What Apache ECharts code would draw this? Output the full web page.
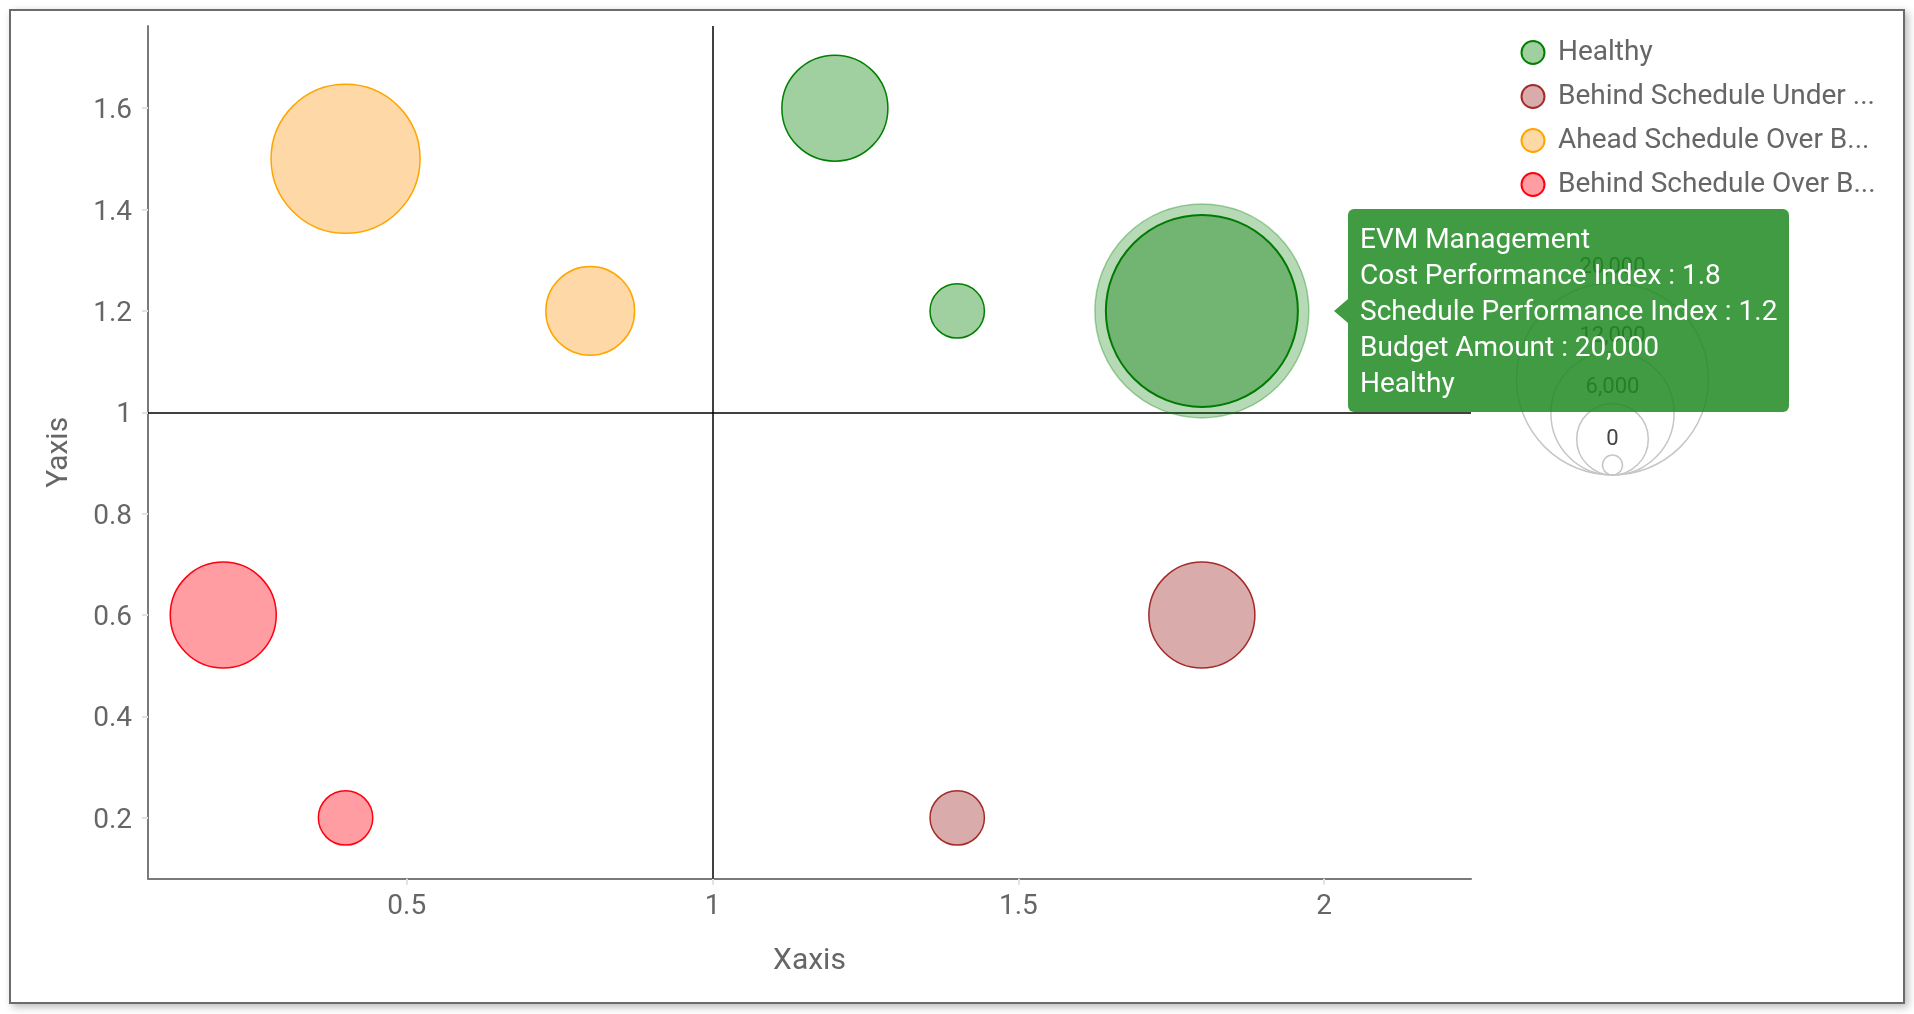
<!DOCTYPE html>
<html>
<head>
<meta charset="utf-8">
<script src="https://cdn.jsdelivr.net/npm/echarts@6/dist/echarts.min.js"></script>
<style>
html,body{margin:0;padding:0;background:#fff;width:1914px;height:1014px;overflow:hidden}
#frame{position:absolute;left:9px;top:9px;width:1896px;height:995px;box-sizing:border-box;border:2px solid #6b6b6b;background:#fff;box-shadow:3px 3px 8px rgba(0,0,0,0.28)}
#main{position:absolute;left:0;top:0;width:1914px;height:1014px}
</style>
</head>
<body>
<div id="frame"></div>
<div id="main"></div>
<script>
// ---- data ----
const seriesNames = ['Healthy', 'Behind Schedule Under Budget', 'Ahead Schedule Over Budget', 'Behind Schedule Over Budget'];
// [Cost Performance Index, Schedule Performance Index, Budget Amount]
const healthy = [[1.2, 1.6, 10000], [1.4, 1.2, 4000], [1.8, 1.2, 20000]];
const behindUnder = [[1.8, 0.6, 10000], [1.4, 0.2, 4000]];
const aheadOver = [[0.4, 1.5, 15000], [0.8, 1.2, 8000]];
const behindOver = [[0.2, 0.6, 10000], [0.4, 0.2, 4000]];
const xTicks = [0.5, 1, 1.5, 2];
const yTicks = [0.2, 0.4, 0.6, 0.8, 1, 1.2, 1.4, 1.6];
const sizeLegendValues = [0, 6000, 12000, 20000];
const quadrantX = 1;
const quadrantY = 1;
const tooltipTitle = 'EVM Management';
const activeSeries = 0;
const activeIndex = 2;

// ---- styles ----
const fills = ['#a0cfa0', '#d9abab', '#fed9a7', '#ff9da3'];
const strokes = ['#008000', '#a52a2a', '#ffa500', '#ff0010'];
const FONT = 'Roboto';
const MIN_D = 20, MAX_D = 192, MAX_BUDGET = 20000;
const bubbleSize = v => MIN_D + (MAX_D - MIN_D) * v / MAX_BUDGET;
const tipBg = 'rgba(30,137,34,0.85)';

const seriesData = [healthy, behindUnder, aheadOver, behindOver];

const chart = echarts.init(document.getElementById('main'), null, {renderer: 'canvas'});

const series = seriesData.map((data, si) => ({
  type: 'scatter',
  name: seriesNames[si],
  z: 3,
  symbol: 'circle',
  symbolSize: v => bubbleSize(v[2]),
  emphasis: {disabled: true},
  itemStyle: {color: fills[si], borderColor: strokes[si], borderWidth: 1.5, opacity: 1},
  data: data.map((d, i) => (si === activeSeries && i === activeIndex)
    ? {value: d, itemStyle: {color: '#72b572', borderColor: '#007a00', borderWidth: 2}}
    : d)
}));

// halo behind the active bubble + quadrant lines
series.push({
  type: 'scatter',
  name: '__halo',
  z: 2,
  silent: true,
  tooltip: {show: false},
  emphasis: {disabled: true},
  symbolSize: v => bubbleSize(v[2]) + 22,
  itemStyle: {color: 'rgba(0,128,0,0.29)', borderColor: 'rgba(0,128,0,0.35)', borderWidth: 1.5, opacity: 1},
  data: [seriesData[activeSeries][activeIndex]],
  markLine: {
    silent: true,
    symbol: 'none',
    z: 1,
    label: {show: false},
    emphasis: {disabled: true},
    lineStyle: {color: '#000', width: 1.5, type: 'solid'},
    data: [{xAxis: quadrantX}, {yAxis: quadrantY}]
  }
});

const slCx = 1612.5, slBottom = 475;
const sizeLegendEls = [];
sizeLegendValues.forEach(v => {
  const r = bubbleSize(v) / 2;
  sizeLegendEls.push({
    type: 'circle', silent: true, z: 100,
    shape: {cx: slCx, cy: slBottom - r, r: r},
    style: {fill: 'none', stroke: '#c6c6c6', lineWidth: 1.5}
  });
  sizeLegendEls.push({
    type: 'text', silent: true, z: 100,
    x: slCx, y: slBottom - 2 * r - 15.5,
    style: {text: v.toLocaleString('en-US'), fill: '#444', fontSize: 22, fontFamily: FONT, align: 'center', verticalAlign: 'middle'}
  });
});

const axisCommon = {
  type: 'value',
  splitLine: {show: false},
  axisLine: {show: true, onZero: false, lineStyle: {color: '#7a7a7a', width: 2}},
  nameLocation: 'middle',
  nameTextStyle: {color: '#666', fontSize: 30, fontFamily: FONT}
};

const option = {
  animation: false,
  textStyle: {fontFamily: FONT},
  grid: {left: 148, top: 26, right: 443, bottom: 135.3, containLabel: false},
  xAxis: Object.assign({}, axisCommon, {
    min: 0.077, max: 2.24,
    name: 'Xaxis', nameGap: 68,
    axisTick: {show: true, customValues: xTicks, length: 6, lineStyle: {color: '#e3e3e3', width: 2}},
    axisLabel: {customValues: xTicks, margin: 14, color: '#666', fontSize: 28, fontFamily: FONT}
  }),
  yAxis: Object.assign({}, axisCommon, {
    min: 0.08, max: 1.762,
    name: 'Yaxis', nameGap: 74,
    axisTick: {show: true, customValues: yTicks, length: 6, lineStyle: {color: '#e3e3e3', width: 2}},
    axisLabel: {
      customValues: yTicks, margin: 16, color: '#666', fontSize: 28, fontFamily: FONT,
      formatter: v => '{p|' + v + '}',
      rich: {p: {padding: [6, 0, 0, 0], color: '#666', fontSize: 28, fontFamily: FONT}}
    }
  }),
  legend: {
    orient: 'vertical', left: 1515.5, top: 33.5,
    itemWidth: 40, itemHeight: 23, itemGap: 16,
    icon: 'circle', selectedMode: false,
    textStyle: {color: '#666', fontSize: 28, fontFamily: FONT, lineHeight: 28, width: 322, overflow: 'truncate', ellipsis: '...'},
    data: seriesNames.map((n, i) => ({name: n, itemStyle: {color: fills[i], borderColor: strokes[i], borderWidth: 2}}))
  },
  tooltip: {
    trigger: 'item',
    triggerOn: 'none',
    alwaysShowContent: true,
    transitionDuration: 0,
    backgroundColor: tipBg,
    borderWidth: 0,
    borderRadius: 6,
    padding: [12, 12, 11, 12],
    shadowBlur: 0,
    shadowColor: 'transparent',
    extraCssText: 'box-shadow:none;overflow:visible;',
    textStyle: {color: '#fff', fontSize: 28, fontFamily: FONT, lineHeight: 36},
    formatter: p => {
      const v = p.value;
      const arrow = '<div style="position:absolute;left:-14px;top:50%;margin-top:-12px;width:0;height:0;' +
        'border-top:12px solid transparent;border-bottom:12px solid transparent;border-right:14px solid ' + tipBg + '"></div>';
      const lines = [
        tooltipTitle,
        'Cost Performance Index : ' + v[0],
        'Schedule Performance Index : ' + v[1],
        'Budget Amount : ' + v[2].toLocaleString('en-US'),
        p.seriesName
      ];
      return arrow + '<div style="font-family:Roboto;font-size:28px;line-height:36px;color:#fff">' + lines.join('<br/>') + '</div>';
    },
    position: (point, params, dom, rect, sz) => {
      const v = params.value;
      const c = chart.convertToPixel({gridIndex: 0}, [v[0], v[1]]);
      return [c[0] + bubbleSize(v[2]) / 2 + 50, c[1] - sz.contentSize[1] / 2];
    }
  },
  graphic: {elements: sizeLegendEls},
  series: series
};

chart.setOption(option);
chart.dispatchAction({type: 'showTip', seriesIndex: activeSeries, dataIndex: activeIndex});
</script>
</body>
</html>
